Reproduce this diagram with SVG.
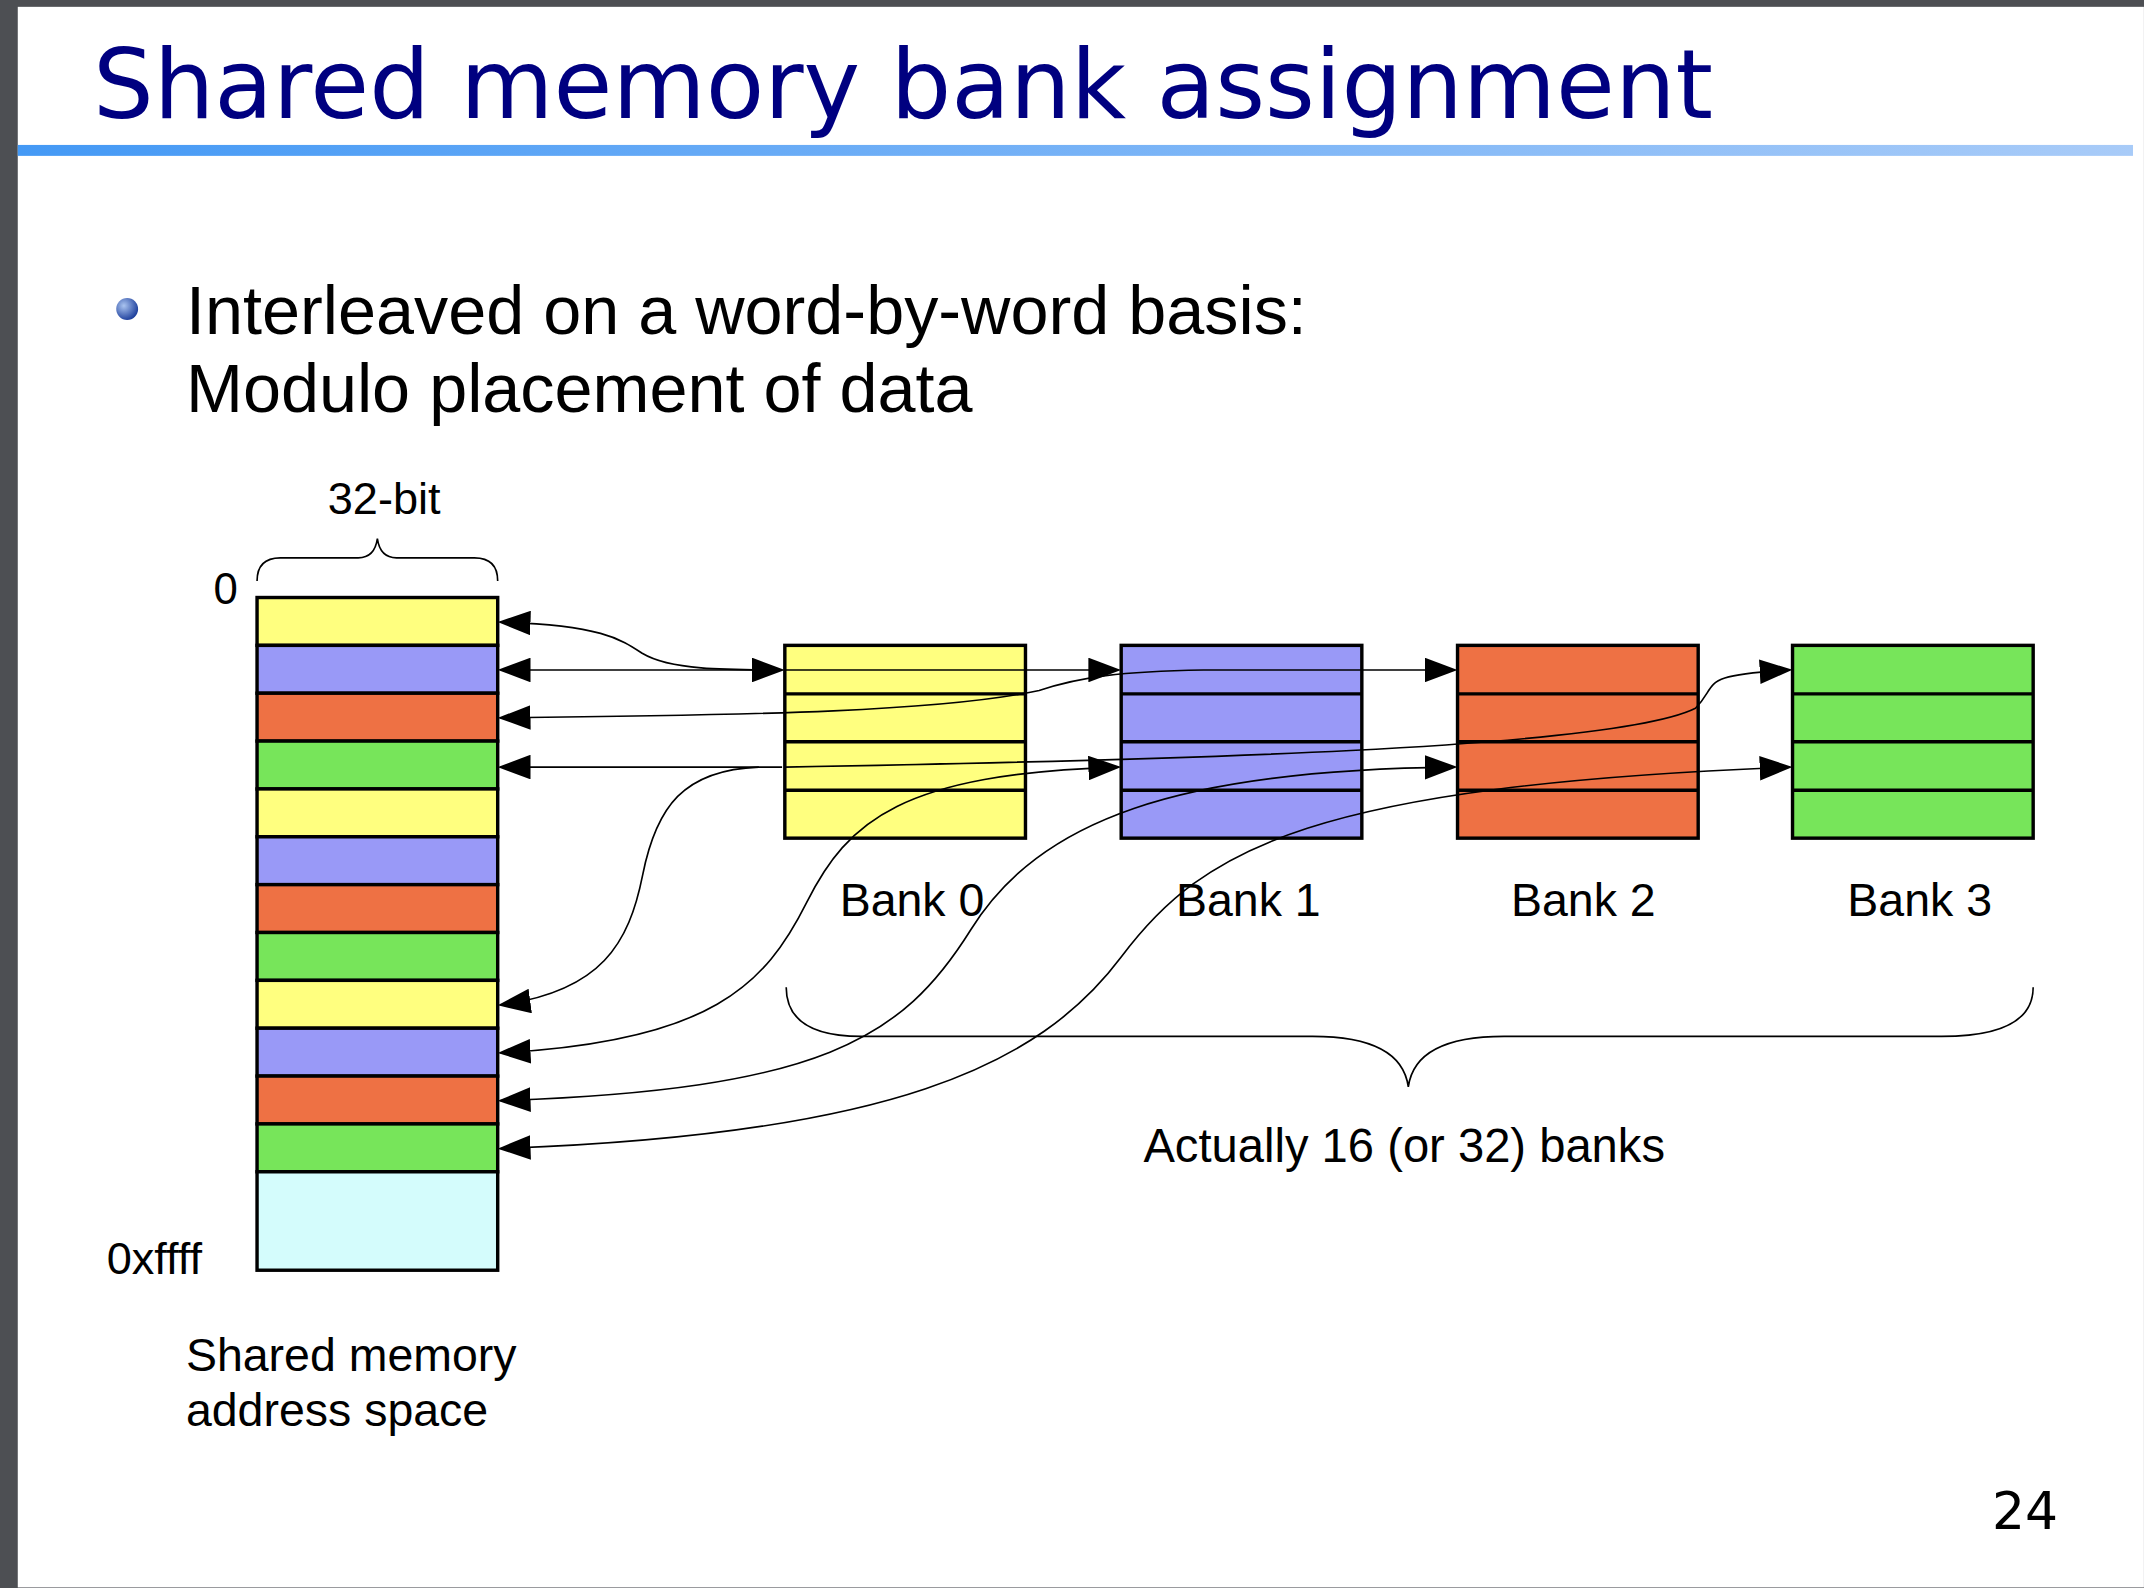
<svg xmlns="http://www.w3.org/2000/svg" width="2144" height="1588" viewBox="0 0 2144 1588">
<defs>
<linearGradient id="bar" x1="0" x2="1"><stop offset="0" stop-color="#4499f5"/><stop offset="1" stop-color="#a8cbf8"/></linearGradient>
<radialGradient id="dot" cx="0.35" cy="0.35" r="0.7"><stop offset="0" stop-color="#aac4f0"/><stop offset="1" stop-color="#1a3c9a"/></radialGradient>
<marker id="ah" markerWidth="24" markerHeight="18" refX="22" refY="9" orient="auto-start-reverse" markerUnits="userSpaceOnUse"><path d="M0,0 L24,9 L0,18 Z" fill="#000"/></marker>
<style>
.t{font-family:"Liberation Sans",Arial,sans-serif;fill:#000}
.c{fill:none;stroke:#000;stroke-width:1.2}
.cell{stroke:#000;stroke-width:2.5}
.y{fill:#ffff7f}.b{fill:#9999f7}.r{fill:#ee7144}.g{fill:#77e55a}
</style>
</defs>
<rect width="2144" height="1588" fill="#4d4f53"/>
<g transform="scale(1.3673)">
<rect x="13" y="5" width="1555" height="1156" fill="#fff"/>
<text x="68" y="86" font-family="DejaVu Sans, sans-serif" font-size="70" fill="#000080">Shared memory bank assignment</text>
<rect x="13" y="106" width="1547" height="8" fill="url(#bar)"/>
<circle cx="93" cy="226" r="8" fill="url(#dot)"/>
<text class="t" x="136" y="244" font-size="50">Interleaved on a word-by-word basis:</text>
<text class="t" x="136" y="301" font-size="50">Modulo placement of data</text>
<g id="memory">
<rect class="cell y" x="188" y="437" width="176" height="35"/>
<rect class="cell b" x="188" y="472" width="176" height="35"/>
<rect class="cell r" x="188" y="507" width="176" height="35"/>
<rect class="cell g" x="188" y="542" width="176" height="35"/>
<rect class="cell y" x="188" y="577" width="176" height="35"/>
<rect class="cell b" x="188" y="612" width="176" height="35"/>
<rect class="cell r" x="188" y="647" width="176" height="35"/>
<rect class="cell g" x="188" y="682" width="176" height="35"/>
<rect class="cell y" x="188" y="717" width="176" height="35"/>
<rect class="cell b" x="188" y="752" width="176" height="35"/>
<rect class="cell r" x="188" y="787" width="176" height="35"/>
<rect class="cell g" x="188" y="822" width="176" height="35"/>
<rect class="cell" fill="#d4fcfc" x="188" y="857" width="176" height="72"/>
<path class="c" d="M188,425 Q188,408 205,408 L262,408 Q274,408 276,394 Q278,408 290,408 L347,408 Q364,408 364,425"/>
<text class="t" x="281" y="376" font-size="33" text-anchor="middle">32-bit</text>
<text class="t" x="165" y="442" font-size="32" text-anchor="middle">0</text>
<text class="t" x="78" y="932" font-size="33">0xffff</text>
<text class="t" x="136" y="1003" font-size="34">Shared memory</text>
<text class="t" x="136" y="1043" font-size="34">address space</text>
</g>
<g id="bank0">
<rect class="cell y" x="574" y="472" width="176" height="141"/>
<path class="cell" d="M574,507.5H750M574,542.5H750M574,578H750"/>
<text class="t" x="667" y="670" font-size="34" text-anchor="middle">Bank 0</text>
</g>
<g id="bank1">
<rect class="cell b" x="820" y="472" width="176" height="141"/>
<path class="cell" d="M820,507.5H996M820,542.5H996M820,578H996"/>
<text class="t" x="913" y="670" font-size="34" text-anchor="middle">Bank 1</text>
</g>
<g id="bank2">
<rect class="cell r" x="1066" y="472" width="176" height="141"/>
<path class="cell" d="M1066,507.5H1242M1066,542.5H1242M1066,578H1242"/>
<text class="t" x="1158" y="670" font-size="34" text-anchor="middle">Bank 2</text>
</g>
<g id="bank3">
<rect class="cell g" x="1311" y="472" width="176" height="141"/>
<path class="cell" d="M1311,507.5H1487M1311,542.5H1487M1311,578H1487"/>
<text class="t" x="1404" y="670" font-size="34" text-anchor="middle">Bank 3</text>
</g>
<g id="connectors">
<path class="c" marker-start="url(#ah)" marker-end="url(#ah)" d="M366,455 C440,457 455,468 470,478 C490,490 530,490 572,490"/>
<path class="c" marker-start="url(#ah)" d="M366,490 L572,490"/>
<path class="c" marker-end="url(#ah)" d="M574,490 L818,490"/>
<path class="c" marker-start="url(#ah)" marker-end="url(#ah)" d="M366,525 C560,523 690,520 760,505 C790,495 820,491 880,490 L1064,490"/>
<path class="c" marker-start="url(#ah)" d="M366,561 L572,561"/>
<path class="c" marker-end="url(#ah)" d="M574,561 C850,556 1180,548 1240,518 C1258,500 1240,494 1309,490"/>
<path class="c" marker-start="url(#ah)" d="M366,735 C440,725 460,690 470,640 C480,590 500,563 555,561"/>
<path class="c" marker-start="url(#ah)" marker-end="url(#ah)" d="M366,770 C520,762 560,720 590,660 C620,600 660,566 818,561"/>
<path class="c" marker-start="url(#ah)" marker-end="url(#ah)" d="M366,805 C600,797 660,760 710,680 C760,600 860,563 1064,561"/>
<path class="c" marker-start="url(#ah)" marker-end="url(#ah)" d="M366,840 C650,830 760,780 820,700 C880,620 960,575 1309,561"/>
<path class="c" d="M575,722 Q575,758 630,758 L960,758 Q1025,758 1030,795 Q1035,758 1100,758 L1420,758 Q1487,758 1487,722"/>
<text class="t" x="1027" y="850" font-size="34.5" text-anchor="middle">Actually 16 (or 32) banks</text>
</g>
<text x="1481" y="1118" font-family="DejaVu Sans, sans-serif" font-size="38" text-anchor="middle" fill="#000">24</text>
</g>
</svg>
